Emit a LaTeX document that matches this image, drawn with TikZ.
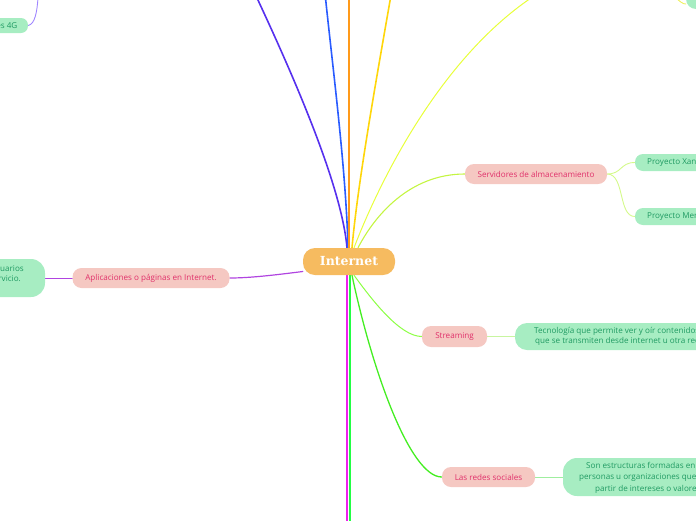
\documentclass[tikz,border=0pt]{standalone}
\usepackage{fontspec}
\setmainfont{Open Sans}
\newfontfamily\slabfont{DejaVu Serif}
\usetikzlibrary{backgrounds}
\definecolor{pinkfill}{HTML}{F5C8C2}
\definecolor{pinktext}{HTML}{E0306A}
\definecolor{greenfill}{HTML}{A7EDC2}
\definecolor{greentext}{HTML}{1F9A62}
\definecolor{inetfill}{HTML}{F6BB60}
\definecolor{cPurple}{HTML}{5630EE}
\definecolor{cBlue}{HTML}{2A5CFF}
\definecolor{cOrange}{HTML}{FF9A1A}
\definecolor{cYellow}{HTML}{FFD60A}
\definecolor{cYG}{HTML}{E8FF3A}
\definecolor{cServ}{HTML}{C4F542}
\definecolor{cStream}{HTML}{8CFF44}
\definecolor{cRedes}{HTML}{44EE22}
\definecolor{cGreen}{HTML}{22FF44}
\definecolor{cMagenta}{HTML}{EE22EE}
\definecolor{cAplic}{HTML}{B044E0}
\definecolor{cFourG}{HTML}{9F86FF}
\definecolor{cServSub}{HTML}{D4F98A}
\definecolor{cStreamSub}{HTML}{C8F5A0}
\definecolor{cRedesSub}{HTML}{9FEE9F}
\definecolor{cTR}{HTML}{EEF060}
\tikzset{
  pinkbox/.style={fill=pinkfill, text=pinktext, inner sep=0pt, rounded corners=9pt,
    font=\fontsize{8.1}{10}\selectfont},
  greenbox/.style={fill=greenfill, inner sep=0pt},
  greentxt/.style={text=greentext, inner sep=0pt, font=\fontsize{8.1}{10}\selectfont},
  conn/.style={line cap=round},
}
\begin{document}
\begin{tikzpicture}[x=1pt,y=-1pt]
\useasboundingbox (0,0) rectangle (696,520);
\clip (0,0) rectangle (696,520);
% central
\node[fill=inetfill, text=white, rounded corners=12pt, minimum width=92pt, minimum height=27pt,
  inner sep=0pt, font=\slabfont\bfseries\fontsize{12.5}{14}\selectfont] (inet) at (349,261.5) {Internet};
% pink nodes
\node[pinkbox, minimum width=157pt, minimum height=20pt] (aplic) at (151,278) {Aplicaciones o páginas en Internet.};
\node[pinkbox, minimum width=142pt, minimum height=20pt] (serv) at (536,174) {Servidores de almacenamiento};
\node[pinkbox, minimum width=65pt, minimum height=21pt] (strm) at (454.5,336.5) {Streaming};
\node[pinkbox, minimum width=93pt, minimum height=20pt] (redes) at (488.5,477) {Las redes sociales};
% green boxes
\node[greenbox, rounded corners=14pt, minimum width=120pt, minimum height=38pt] (leftn) at (-15,278) {};
\node[greentxt, anchor=east, align=right] (lefttxt) at (24,273.5) {usuarios\\servicio.\hspace*{3pt}};
\node[greenbox, rounded corners=7pt, minimum width=88pt, minimum height=15pt] (g4) at (-16,25.5) {};
\node[greentxt, anchor=east] (g4txt) at (17.5,25.5) {Redes 4G};
\node[greenbox, rounded corners=8pt, minimum width=125pt, minimum height=17pt] (xan) at (697.5,162.5) {};
\node[greentxt, anchor=west] (xantxt) at (647,162.5) {Proyecto Xanadu};
\node[greenbox, rounded corners=8pt, minimum width=125pt, minimum height=17pt] (mer) at (697.5,216.5) {};
\node[greentxt, anchor=west] (mertxt) at (647,216.5) {Proyecto Memex};
\node[greenbox, rounded corners=12pt, minimum width=285pt, minimum height=27pt] (sdesc) at (657.5,336.5) {};
\node[greentxt, anchor=west, align=left] (sdesctxt) at (534,336) {Tecnología que permite ver y oír contenidos\\\hspace*{1pt}que se transmiten desde internet u otra red};
\node[greenbox, rounded corners=14pt, minimum width=237pt, minimum height=38pt] (rdesc) at (681.5,477) {};
\node[greentxt, anchor=west, align=left, font=\fontsize{8.1}{11.5}\selectfont] (rdesctxt) at (579,477.5) {\hspace*{7pt}Son estructuras formadas en\\personas u organizaciones que\\\hspace*{16pt}partir de intereses o valores};
\node[greenbox, rounded corners=10pt, minimum width=94pt, minimum height=29pt] (trn) at (733,-5.5) {};
% free ends
\coordinate (eP) at (257,-2);
\coordinate (eB) at (325.5,-2);
\coordinate (eO) at (349,-2);
\coordinate (eY) at (390.5,-2);
\coordinate (eYG) at (531,-2);
\coordinate (eM) at (347,522);
\coordinate (eG) at (350,522);
\coordinate (e4G) at (38,-2);
\coordinate (eTR) at (674,-4);
\begin{pgfonlayer}{background}
\clip (0,0) rectangle (696,520);
\draw[conn, cPurple, line width=1.6pt] ([xshift=-2pt]inet.north) .. controls (342,190) and (300,90) .. (eP);
\draw[conn, cBlue, line width=1.6pt] ([xshift=-1pt]inet.north) .. controls (346,170) and (333,70) .. (eB);
\draw[conn, cOrange, line width=1.6pt] (inet.north) -- (eO);
\draw[conn, cYellow, line width=1.6pt] ([xshift=3pt]inet.north) .. controls (358,180) and (378,70) .. (eY);
\draw[conn, cYG, line width=1pt] ([xshift=5pt]inet.north) .. controls (380,180) and (440,60) .. (eYG);
\draw[conn, cServ, line width=1.1pt] ([xshift=9pt]inet.north) .. controls (375,215) and (410,174) .. (serv.west);
\draw[conn, cServSub, line width=0.9pt] (serv.east) .. controls (622,174) and (620,162.5) .. (xan.west);
\draw[conn, cServSub, line width=0.9pt] (serv.east) .. controls (625,174) and (618,216.5) .. (mer.west);
\draw[conn, cStream, line width=1pt] ([xshift=5pt]inet.south) .. controls (372,300) and (400,336.5) .. (strm.west);
\draw[conn, cStreamSub, line width=0.9pt] (strm.east) -- (sdesc.west);
\draw[conn, cRedes, line width=1.3pt] ([xshift=3pt]inet.south) .. controls (372,370) and (410,477) .. (redes.west);
\draw[conn, cRedesSub, line width=0.9pt] (redes.east) -- (rdesc.west);
\draw[conn, cMagenta, line width=1.6pt] ([xshift=-2pt]inet.south) -- (eM);
\draw[conn, cGreen, line width=1.6pt] ([xshift=1pt]inet.south) -- (eG);
\draw[conn, cAplic, line width=1.2pt] ([yshift=-10pt]inet.west) .. controls (275,275) and (250,278) .. (aplic.east);
\draw[conn, cAplic, line width=0.9pt] (aplic.west) -- (leftn.east);
\draw[conn, cFourG, line width=0.9pt] (g4.east) .. controls (35,24) and (37,12) .. (e4G);
\draw[conn, cTR, line width=0.9pt] (eTR) .. controls (680,2) and (683,4) .. ([yshift=-9.5pt]trn.west);
\end{pgfonlayer}
\end{tikzpicture}
\end{document}
